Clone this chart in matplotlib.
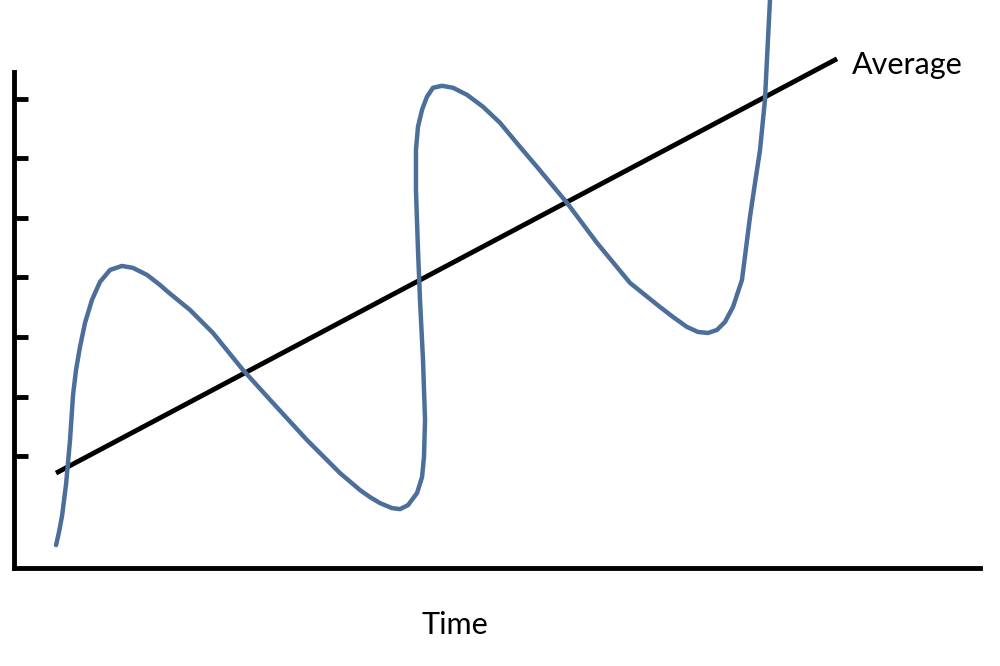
import matplotlib.pyplot as plt

# hand drawn wave (time units 0-10, value ticks at 1..7)
wave_x = [0.435, 0.466, 0.497, 0.538, 0.580, 0.611, 0.642, 0.683, 0.735, 0.807,
          0.890, 0.994, 1.118, 1.232, 1.377, 1.511, 1.594, 1.822, 2.060, 2.371,
          2.681, 3.033, 3.375, 3.582, 3.685, 3.789, 3.913, 3.996, 4.079, 4.172,
          4.224, 4.244, 4.255, 4.234, 4.203, 4.182, 4.161, 4.161, 4.182, 4.224,
          4.275, 4.337, 4.431, 4.545, 4.689, 4.855, 5.031, 5.238, 5.414, 5.725,
          6.035, 6.377, 6.687, 6.822, 6.967, 7.081, 7.184, 7.277, 7.360, 7.443,
          7.536, 7.619, 7.671, 7.723, 7.774, 7.805, 7.826]
wave_y = [-0.496, -0.277, -0.008, 0.513, 1.269, 2.025, 2.445, 2.832, 3.235, 3.622,
          3.924, 4.126, 4.193, 4.160, 4.042, 3.874, 3.756, 3.454, 3.067, 2.445,
          1.891, 1.269, 0.714, 0.429, 0.311, 0.210, 0.126, 0.109, 0.176, 0.378,
          0.647, 0.983, 1.605, 2.613, 3.622, 4.462, 5.471, 6.143, 6.529, 6.815,
          7.034, 7.185, 7.218, 7.185, 7.067, 6.866, 6.597, 6.193, 5.857, 5.252,
          4.580, 3.908, 3.504, 3.336, 3.168, 3.084, 3.067, 3.118, 3.252, 3.504,
          3.958, 5.017, 5.588, 6.143, 6.983, 7.992, 8.664]

avg_x = [0.435, 8.520]
avg_y = [0.714, 7.672]

y_ticks = [1, 2, 3, 4, 5, 6, 7]

fig = plt.figure(figsize=(10, 6.66), dpi=100)
ax = fig.add_axes([0.014, (666 - 568) / 666, 0.966, (568 - 72) / 666])

ax.plot(wave_x, wave_y, color="#4B6E9A", linewidth=3.2, solid_joinstyle="round",
        solid_capstyle="round", clip_on=False, zorder=3)
ax.plot(avg_x, avg_y, color="black", linewidth=3.5, solid_capstyle="butt",
        clip_on=False, zorder=2)

ax.set_xlim(0, 10)
ax.set_ylim(-0.88, 7.45)
ax.set_yticks(y_ticks)
ax.set_yticklabels([])
ax.set_xticks([])
ax.tick_params(axis="y", direction="in", length=10, width=3.5, color="black")

for side in ["top", "right"]:
    ax.spines[side].set_visible(False)
for side in ["left", "bottom"]:
    ax.spines[side].set_linewidth(3.5)
    ax.spines[side].set_color("black")

ax.text(8.675, 7.56, "Average", fontsize=22, family="Lato", va="center", ha="left",
        clip_on=False)
ax.text(4.565, -1.84, "Time", fontsize=22, family="Lato", va="center", ha="center",
        clip_on=False)

plt.savefig("out.png", dpi=100)
